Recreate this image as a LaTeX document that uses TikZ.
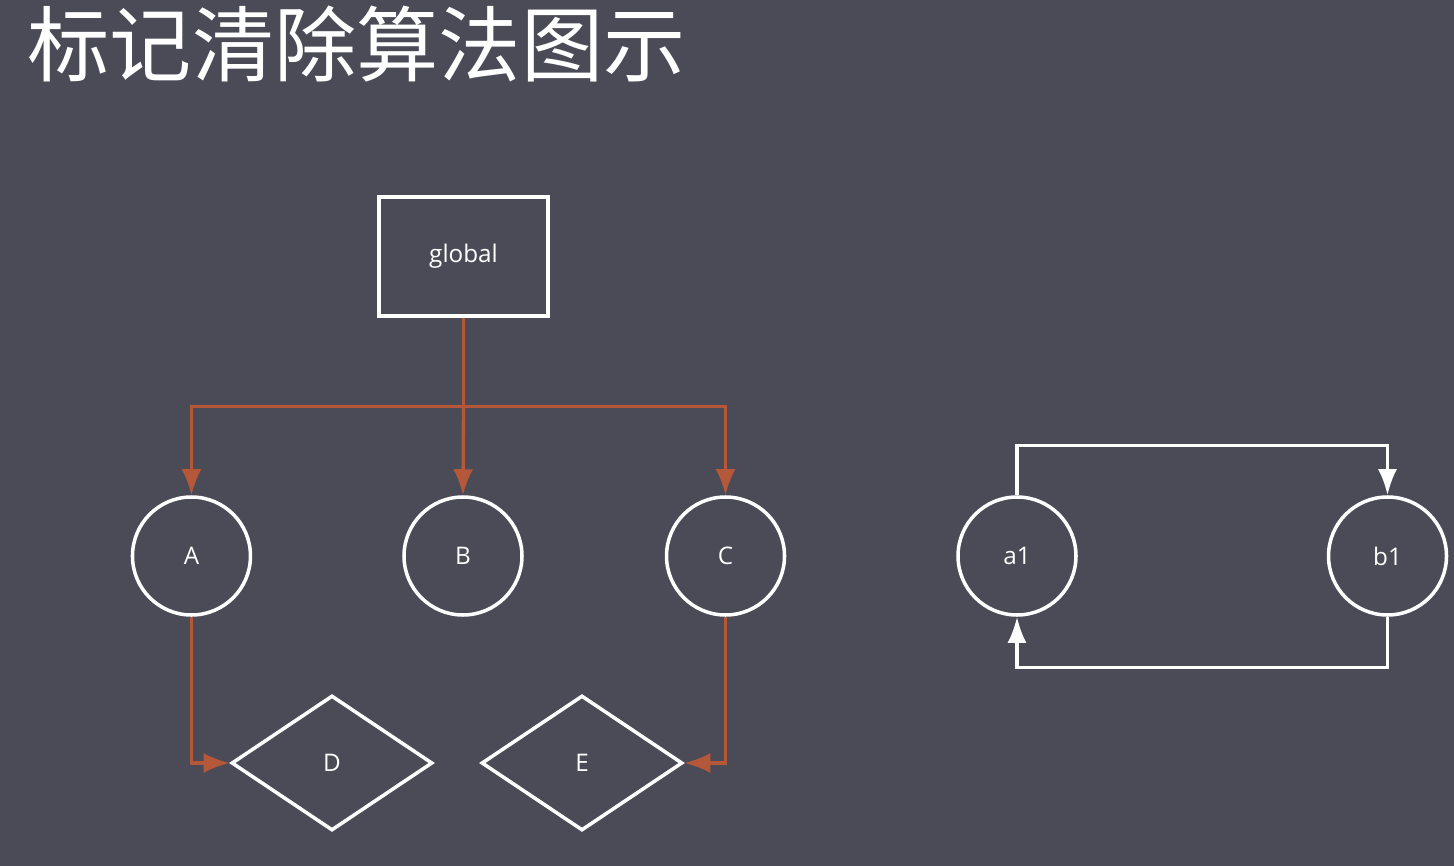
\documentclass[tikz,border=0pt]{standalone}
\usepackage{fontspec}
\setmainfont{Open Sans}
\newfontfamily\cjk{Noto Sans CJK SC}
\usetikzlibrary{arrows.meta,calc,positioning,shapes.geometric}
\definecolor{slidebg}{HTML}{4A4B57}
\definecolor{markred}{HTML}{B5583A}
\tikzset{
rootstyle/.style={
  rectangle,
  line width=1pt,
  minimum width=1.69cm,
  minimum height=1.19cm,
  draw=white,
  text=white,
  font=\fontsize{6.9}{8}\selectfont,
  }
}
\tikzset{
objstyle/.style={
  circle,
  line width=1pt,
  inner sep=0pt,
  minimum size=1.18cm,
  draw=white,
  text=white,
  font=\fontsize{6.9}{8}\selectfont,
  }
}
\tikzset{
leafstyle/.style={
  diamond,
  line width=1pt,
  inner sep=0pt,
  minimum width=2.01cm,
  minimum height=1.35cm,
  draw=white,
  text=white,
  font=\fontsize{6.9}{8}\selectfont,
  }
}
\tikzset{
markline/.style={
  line width=0.95pt,
  draw=markred,
  -{Latex[length=2.6mm,width=2.0mm]}
  }
}
\tikzset{
loopline/.style={
  line width=0.95pt,
  draw=white,
  -{Latex[length=2.6mm,width=1.9mm]}
  }
}

\begin{document}
\begin{tikzpicture}
    \fill[slidebg] (0,0) rectangle (14.54,-8.66);
    \useasboundingbox (0,0) rectangle (14.54,-8.66);

    % title
    \node[anchor=base west, inner sep=0pt, text=white, font=\cjk\fontsize{23.4}{26}\selectfont] (title) at (0.27,-0.76) {标记清除算法图示};

    % reachable part
    \node[rootstyle] (global) at (4.635,-2.565) {global};
    \node[objstyle] (B) at (4.63,-5.56) {B};
    \node[objstyle, left=1.50cm of B] (A) {A};
    \node[objstyle, right=1.41cm of B] (C) {C};
    \node[leafstyle] (D) at (3.32,-7.63) {D};
    \node[leafstyle] (E) at (5.82,-7.63) {E};

    % isolated part
    \node[objstyle] (a1) at (10.17,-5.56) {a1};
    \node[objstyle, right=2.49cm of a1] (b1) {b1};

    % marking edges
    \draw[line width=0.95pt, draw=markred] (global.south) -- ++(0,-0.89) coordinate (split);
    \draw[markline] (split) -| (A.north);
    \draw[markline] (split) -- (B.north);
    \draw[markline] (split) -| (C.north);
    \draw[markline] (A.south) |- (D.west);
    \draw[markline] (C.south) |- (E.east);

    % cycle edges
    \draw[loopline] (a1.north) -- ++(0,0.5) -| (b1.north);
    \draw[loopline] (b1.south) -- ++(0,-0.51) -| (a1.south);
\end{tikzpicture}
\end{document}
